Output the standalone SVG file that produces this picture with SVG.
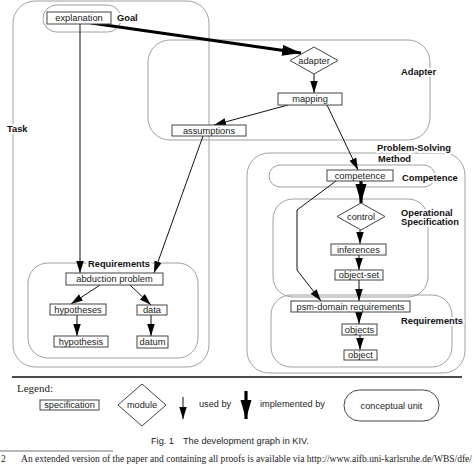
<svg xmlns="http://www.w3.org/2000/svg" width="474" height="465" viewBox="0 0 474 465">
<style>
  .unit{fill:none;stroke:#a0a0a0;stroke-width:1}
  .spec{fill:#fff;stroke:#444;stroke-width:1}
  .t{font-family:"Liberation Sans",Arial,sans-serif;font-size:9.3px;fill:#222;text-anchor:middle}
  .lbl{font-family:"Liberation Sans",Arial,sans-serif;font-size:9.3px;font-weight:bold;fill:#111;paint-order:stroke;stroke:#fff;stroke-width:4px;stroke-linejoin:round}
  .e{fill:none;stroke:#111;stroke-width:1}
  .E{fill:none;stroke:#000;stroke-width:3.2}
  .lg{font-family:"Liberation Sans",Arial,sans-serif;font-size:9.2px;fill:#222}
  .serif{font-family:"Liberation Serif","Times New Roman",serif;fill:#222}
</style>
<defs>
  <marker id="a" markerUnits="userSpaceOnUse" markerWidth="12" markerHeight="8" refX="12" refY="3.75" orient="auto">
    <path d="M0,0 L12,3.75 L0,7.5 z" fill="#000"/>
  </marker>
  <marker id="A" markerUnits="userSpaceOnUse" markerWidth="20" markerHeight="12" refX="19" refY="5.5" orient="auto">
    <path d="M0,0 L19,5.5 L0,11 z" fill="#000"/>
  </marker>
</defs>

<!-- conceptual units -->
<g id="task"><rect class="unit" x="13" y="1" width="196" height="366" rx="22"/></g>
<g id="goal"><rect class="unit" x="43" y="5" width="78" height="27" rx="13.5"/></g>
<g id="adapter-unit"><rect class="unit" x="148" y="40" width="282" height="100" rx="22"/></g>
<g id="task-req"><rect class="unit" x="28" y="263" width="170" height="95" rx="20"/></g>
<g id="psm"><rect class="unit" x="247" y="153" width="218" height="220" rx="22"/></g>
<g id="competence-unit"><rect class="unit" x="269" y="165" width="166" height="22" rx="11"/></g>
<g id="opspec"><rect class="unit" x="273" y="199" width="155" height="98" rx="20"/></g>
<g id="psm-req"><rect class="unit" x="271" y="295" width="181" height="72" rx="20"/></g>

<!-- connectors -->
<g id="connectors">
  <line class="E" x1="91" y1="23" x2="301" y2="53" marker-end="url(#A)"/>
  <line class="e" x1="80" y1="24" x2="80" y2="273" marker-end="url(#a)"/>
  <line class="e" x1="314" y1="74" x2="314" y2="93" marker-end="url(#a)"/>
  <line class="e" x1="288" y1="105" x2="214" y2="125" marker-end="url(#a)"/>
  <line class="e" x1="327" y1="105" x2="358" y2="170" marker-end="url(#a)"/>
  <line class="e" x1="203" y1="136" x2="154" y2="273" marker-end="url(#a)"/>
  <line class="e" x1="100" y1="285" x2="71" y2="304" marker-end="url(#a)"/>
  <line class="e" x1="130" y1="285" x2="151" y2="305" marker-end="url(#a)"/>
  <line class="e" x1="77" y1="315" x2="77" y2="336" marker-end="url(#a)"/>
  <line class="e" x1="151" y1="315" x2="151" y2="336" marker-end="url(#a)"/>
  <line class="E" x1="361" y1="181" x2="361" y2="203" marker-end="url(#A)"/>
  <line class="e" x1="360" y1="230" x2="360" y2="244" marker-end="url(#a)"/>
  <line class="e" x1="359" y1="255" x2="359" y2="270" marker-end="url(#a)"/>
  <line class="e" x1="359" y1="280" x2="359" y2="301" marker-end="url(#a)"/>
  <polyline class="e" points="336,181 297,210 297,270 321,301" marker-end="url(#a)"/>
  <line class="e" x1="359" y1="312" x2="359" y2="324" marker-end="url(#a)"/>
  <line class="e" x1="360" y1="335" x2="360" y2="350" marker-end="url(#a)"/>
</g>

<!-- nodes -->
<g id="explanation"><rect class="spec" x="47" y="12" width="64" height="12"/><text class="t" x="79" y="21.3">explanation</text></g>
<g id="adapter"><polygon class="spec" points="290,60.5 314,47 338,60.5 314,74"/><text class="t" x="314" y="63.8">adapter</text></g>
<g id="mapping"><rect class="spec" x="278" y="93" width="64" height="12"/><text class="t" x="310" y="102.3">mapping</text></g>
<g id="assumptions"><rect class="spec" x="172" y="125" width="74" height="11"/><text class="t" x="209" y="133.8">assumptions</text></g>
<g id="abduction-problem"><rect class="spec" x="66" y="273" width="97" height="12"/><text class="t" x="114.5" y="282.3">abduction problem</text></g>
<g id="hypotheses"><rect class="spec" x="50" y="304" width="56" height="11"/><text class="t" x="78" y="312.8">hypotheses</text></g>
<g id="data"><rect class="spec" x="137" y="305" width="30" height="10"/><text class="t" x="152" y="313.3">data</text></g>
<g id="hypothesis"><rect class="spec" x="54" y="336" width="54" height="11"/><text class="t" x="81" y="344.8">hypothesis</text></g>
<g id="datum"><rect class="spec" x="137" y="336" width="31" height="12"/><text class="t" x="152.5" y="345.3">datum</text></g>
<g id="competence"><rect class="spec" x="327" y="170" width="66" height="11"/><text class="t" x="360" y="178.8">competence</text></g>
<g id="control"><polygon class="spec" points="337,216.5 361,203 385,216.5 361,230"/><text class="t" x="361" y="219.8">control</text></g>
<g id="inferences"><rect class="spec" x="331" y="244" width="55" height="11"/><text class="t" x="358.5" y="252.8">inferences</text></g>
<g id="object-set"><rect class="spec" x="335" y="270" width="48" height="10"/><text class="t" x="359" y="278.3">object-set</text></g>
<g id="psm-domain-requirements"><rect class="spec" x="291" y="301" width="119" height="11"/><text class="t" x="350.5" y="309.8">psm-domain requirements</text></g>
<g id="objects"><rect class="spec" x="342" y="324" width="35" height="11"/><text class="t" x="359.5" y="332.8">objects</text></g>
<g id="object"><rect class="spec" x="344" y="350" width="33" height="10"/><text class="t" x="360.5" y="358.3">object</text></g>

<!-- unit labels -->
<g id="labels">
  <text class="lbl" x="117" y="20.5">Goal</text>
  <text class="lbl" x="7" y="131.5">Task</text>
  <text class="lbl" x="401" y="74.5">Adapter</text>
  <text class="lbl" x="377" y="151">Problem-Solving</text>
  <text class="lbl" x="378" y="162">Method</text>
  <text class="lbl" x="402" y="180.5">Competence</text>
  <text class="lbl" x="401" y="215.5">Operational</text>
  <text class="lbl" x="401" y="225">Specification</text>
  <text class="lbl" x="401" y="323.5">Requirements</text>
  <text class="lbl" x="88" y="266.5">Requirements</text>
</g>

<!-- legend -->
<g id="legend">
  <line x1="12" y1="377" x2="462" y2="377" stroke="#111" stroke-width="1.5"/>
  <text class="serif" x="17" y="392" font-size="11">Legend:</text>
  <rect class="spec" x="40" y="400" width="59" height="10"/>
  <text class="lg" x="69.5" y="408.3" text-anchor="middle">specification</text>
  <polygon class="spec" points="118,405 142,384 166,405 142,426"/>
  <text class="lg" x="142" y="408.3" text-anchor="middle">module</text>
  <line class="e" x1="183" y1="397" x2="183" y2="419" marker-end="url(#a)"/>
  <text class="lg" x="199" y="407">used by</text>
  <line class="E" x1="246" y1="391" x2="246" y2="419" marker-end="url(#A)"/>
  <text class="lg" x="260" y="407">implemented by</text>
  <rect class="spec" x="344" y="390" width="95" height="31" rx="15.5" stroke="#666"/>
  <text class="lg" x="391.5" y="408.5" text-anchor="middle">conceptual unit</text>
  <text class="lg" x="151" y="443.5">Fig. 1</text>
  <text class="lg" x="183" y="443.5">The development graph in KIV.</text>
  <line x1="0" y1="451" x2="113" y2="451" stroke="#333" stroke-width="0.7"/>
  <text class="serif" x="1" y="462" font-size="9.5">2</text>
  <text class="serif" x="21" y="462" font-size="9.5" textLength="451" lengthAdjust="spacingAndGlyphs">An extended version of the paper and containing all proofs is available via http://www.aifb.uni-karlsruhe.de/WBS/dfe/</text>
</g>
</svg>
